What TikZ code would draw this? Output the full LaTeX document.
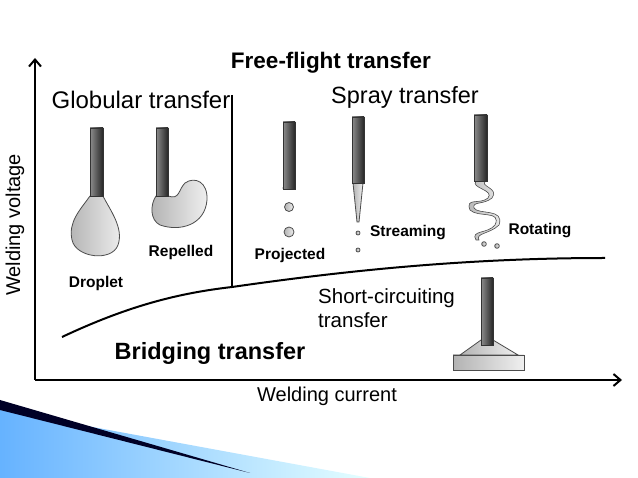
\documentclass[tikz,border=0pt]{standalone}
\usepackage{fontspec}
\setmainfont{Liberation Sans}
\usetikzlibrary{arrows.meta}
\begin{document}
\begin{tikzpicture}[x=1pt,y=-1pt,
  axis/.style={line width=2pt,-{Straight Barb[length=7pt,width=12pt,line width=2pt]}},
  rod/.style={draw=black!80,line width=0.6pt,left color=black!45,right color=black!85},
  metal/.style={draw=black!70,line width=0.8pt,left color=black!30,right color=black!6},
  lbl/.style={font=\bfseries\fontsize{15.5}{18}\selectfont},
  ttl/.style={font=\fontsize{23.5}{27}\selectfont}]
\useasboundingbox (0,0) rectangle (638,478);
% slide decoration
\shade[left color=cyan!50!blue!60, right color=cyan!10] (0,410) -- (370,478) -- (0,478) -- cycle;
\fill[black!85!blue] (0,400) -- (250,473) -- (0,410) -- cycle;
% axes
\coordinate (o) at (35,380);
\coordinate (yt) at (35,58);
\coordinate (xt) at (622,380);
\draw[axis] (o) -- (yt);
\draw[axis] (o) -- (xt);
% boundary curve and divider
\coordinate (c0) at (62,337);
\coordinate (cm) at (232,287);
\coordinate (c1) at (605,258);
\draw[line width=2pt] (c0) .. controls (130,305) and (180,293) .. (cm) .. controls (350,270) and (470,258) .. (c1);
\coordinate (dv) at (232,95);
\draw[line width=2pt] (dv) -- (cm);
% titles
\node[font=\bfseries\fontsize{22.5}{26}\selectfont] (ff) at (331,63) {Free-flight transfer};
\node[ttl,font=\fontsize{24}{27}\selectfont] (gt) at (141,100) {Globular transfer};
\node[ttl] (st) at (405,97) {Spray transfer};
\node[font=\bfseries\fontsize{23.5}{27}\selectfont] (bt) at (210,353) {Bridging transfer};
\node[align=left,anchor=north west,font=\fontsize{20.5}{24}\selectfont,inner sep=0pt] (sc) at (318,288) {Short-circuiting\\transfer};
\node[rotate=90,font=\fontsize{20}{24}\selectfont] (wv) at (15,225) {Welding voltage};
\node[font=\fontsize{20}{24}\selectfont] (wc) at (327,396) {Welding current};
% labels
\node[lbl] (l1) at (96,283) {Droplet};
\node[lbl] (l2) at (181,252) {Repelled};
\node[lbl] (l3) at (290,255) {Projected};
\node[lbl] (l4) at (408,233) {Streaming};
\node[lbl] (l5) at (540,231) {Rotating};
% droplet
\draw[metal] (90,196) .. controls (80,210) and (68,222) .. (72,240) .. controls (76,258) and (112,262) .. (118,245) .. controls (124,228) and (110,210) .. (103,196) -- cycle;
\draw[rod] (90,128) rectangle (103,196);
% repelled
\draw[metal] (156,196) .. controls (150,205) and (150,220) .. (160,225) .. controls (180,232) and (205,225) .. (207,200) .. controls (208,182) and (195,176) .. (185,183) .. controls (178,190) and (180,200) .. (168,196) -- cycle;
\draw[rod] (156,128) rectangle (168,196);
% projected
\draw[metal] (283,188) arc (180:0:6 and -5) -- cycle;
\draw[rod] (283,122) rectangle (295,189);
\draw[metal] (289,207) circle (4.5);
\draw[metal] (289,232) circle (5);
% streaming
\draw[metal] (353,183) -- (357,222) -- (359,222) -- (363,183) -- cycle;
\draw[rod] (352,117) rectangle (364,183);
\draw[metal] (358,233) circle (2);
\draw[metal] (358,250) circle (2);
% rotating
\draw[metal,line width=0.6pt] (476,181) .. controls (470,188) and (495,190) .. (488,198) .. controls (480,205) and (465,197) .. (470,210) .. controls (478,218) and (502,210) .. (495,225) .. controls (488,234) and (470,230) .. (476,240)
  -- (479,240) .. controls (475,233) and (490,234) .. (499,225) .. controls (505,208) and (478,215) .. (474,208) .. controls (472,201) and (484,205) .. (492,198) .. controls (500,188) and (478,186) .. (486,181) -- cycle;
\draw[rod] (474,115) rectangle (487,181);
\draw[metal] (484,244) circle (2.3);
\draw[metal] (497,246) circle (2.3);
% short circuit
\draw[metal] (453,355) rectangle (524,370);
\draw[metal] (460,355) -- (481,340) -- (493,340) -- (518,355) -- cycle;
\draw[rod] (481,278) rectangle (493,345);
\end{tikzpicture}
\end{document}
